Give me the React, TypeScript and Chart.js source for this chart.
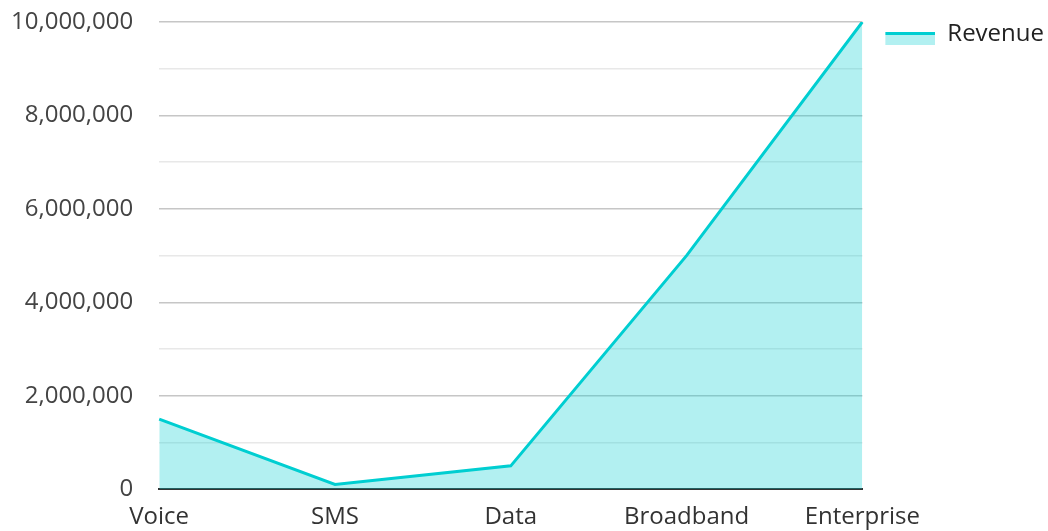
import React, { useEffect, useRef } from "react";
import { Chart, registerables } from "chart.js";

Chart.register(...registerables);

const categories = ["Voice", "SMS", "Data", "Broadband", "Enterprise"];
const revenue = [1500000, 100000, 500000, 5000000, 10000000];
const seriesLabel = "Revenue";
const yMax = 10000000;
const yStep = 1000000;

const LINE = "#00CED1";
const FILL = "rgba(0,206,209,0.3)";
const FONT = "'Open Sans', 'Noto Sans', sans-serif";
const CLEAR = "rgba(0,0,0,0)";

function makeLegendIcon(): HTMLCanvasElement {
  const c = document.createElement("canvas");
  c.width = 73;
  c.height = 26;
  const ctx = c.getContext("2d")!;
  ctx.fillStyle = FILL;
  ctx.fillRect(23, 11, 50, 13);
  ctx.fillStyle = LINE;
  ctx.fillRect(23, 11, 50, 3);
  return c;
}

export default function App() {
  const ref = useRef<HTMLCanvasElement | null>(null);

  useEffect(() => {
    document.body.style.margin = "0";
    let chart: Chart | null = null;
    let cancelled = false;
    const build = () => {
      if (cancelled || !ref.current) return;
      const icon = makeLegendIcon();
      chart = new Chart(ref.current, {
        type: "line",
        data: {
          labels: categories,
          datasets: [
            {
              label: seriesLabel,
              data: revenue,
              borderColor: LINE,
              backgroundColor: FILL,
              borderWidth: 3,
              fill: "origin",
              pointRadius: 0,
              pointHoverRadius: 0,
              tension: 0,
              pointStyle: icon as any,
            },
          ],
        },
        options: {
          animation: false,
          responsive: false,
          maintainAspectRatio: false,
          layout: { padding: { top: 22, left: 8, right: -6, bottom: -4 } },
          plugins: {
            tooltip: { enabled: false },
            legend: {
              position: "right",
              align: "start",
              labels: {
                usePointStyle: true,
                pointStyleWidth: 73,
                boxHeight: 13,
                padding: 0,
                color: "#222",
                font: { family: FONT, size: 24 },
              },
            },
          },
          scales: {
            x: {
              grid: {
                display: true,
                color: CLEAR,
                tickColor: CLEAR,
                drawTicks: true,
                tickLength: 11,
              },
              border: { display: true, color: "#333", width: 2 },
              ticks: {
                color: "#333",
                padding: 3,
                maxRotation: 0,
                autoSkip: false,
                font: { family: FONT, size: 24 },
              },
            },
            y: {
              min: 0,
              max: yMax,
              border: { display: false },
              grid: {
                drawTicks: true,
                tickLength: 23,
                tickColor: CLEAR,
                lineWidth: 1.5,
                color: (ctx: any) =>
                  ctx.tick && ctx.tick.value % (2 * yStep) === 0 ? "#c6c6c6" : "#e8e8e8",
              },
              ticks: {
                stepSize: yStep,
                padding: 3,
                color: "#444",
                font: { family: FONT, size: 24 },
                callback: (v: any) =>
                  Number(v) % (2 * yStep) === 0 ? Number(v).toLocaleString("en-US") : "",
              },
            },
          },
        },
      });
    };
    const fonts: any = (document as any).fonts;
    if (fonts && fonts.load) {
      fonts.load("24px 'Open Sans'").then(build, build);
    } else {
      build();
    }
    return () => {
      cancelled = true;
      if (chart) chart.destroy();
    };
  }, []);

  return (
    <div style={{ width: 1048, height: 531 }}>
      <canvas ref={ref} width={1048} height={531} />
    </div>
  );
}
